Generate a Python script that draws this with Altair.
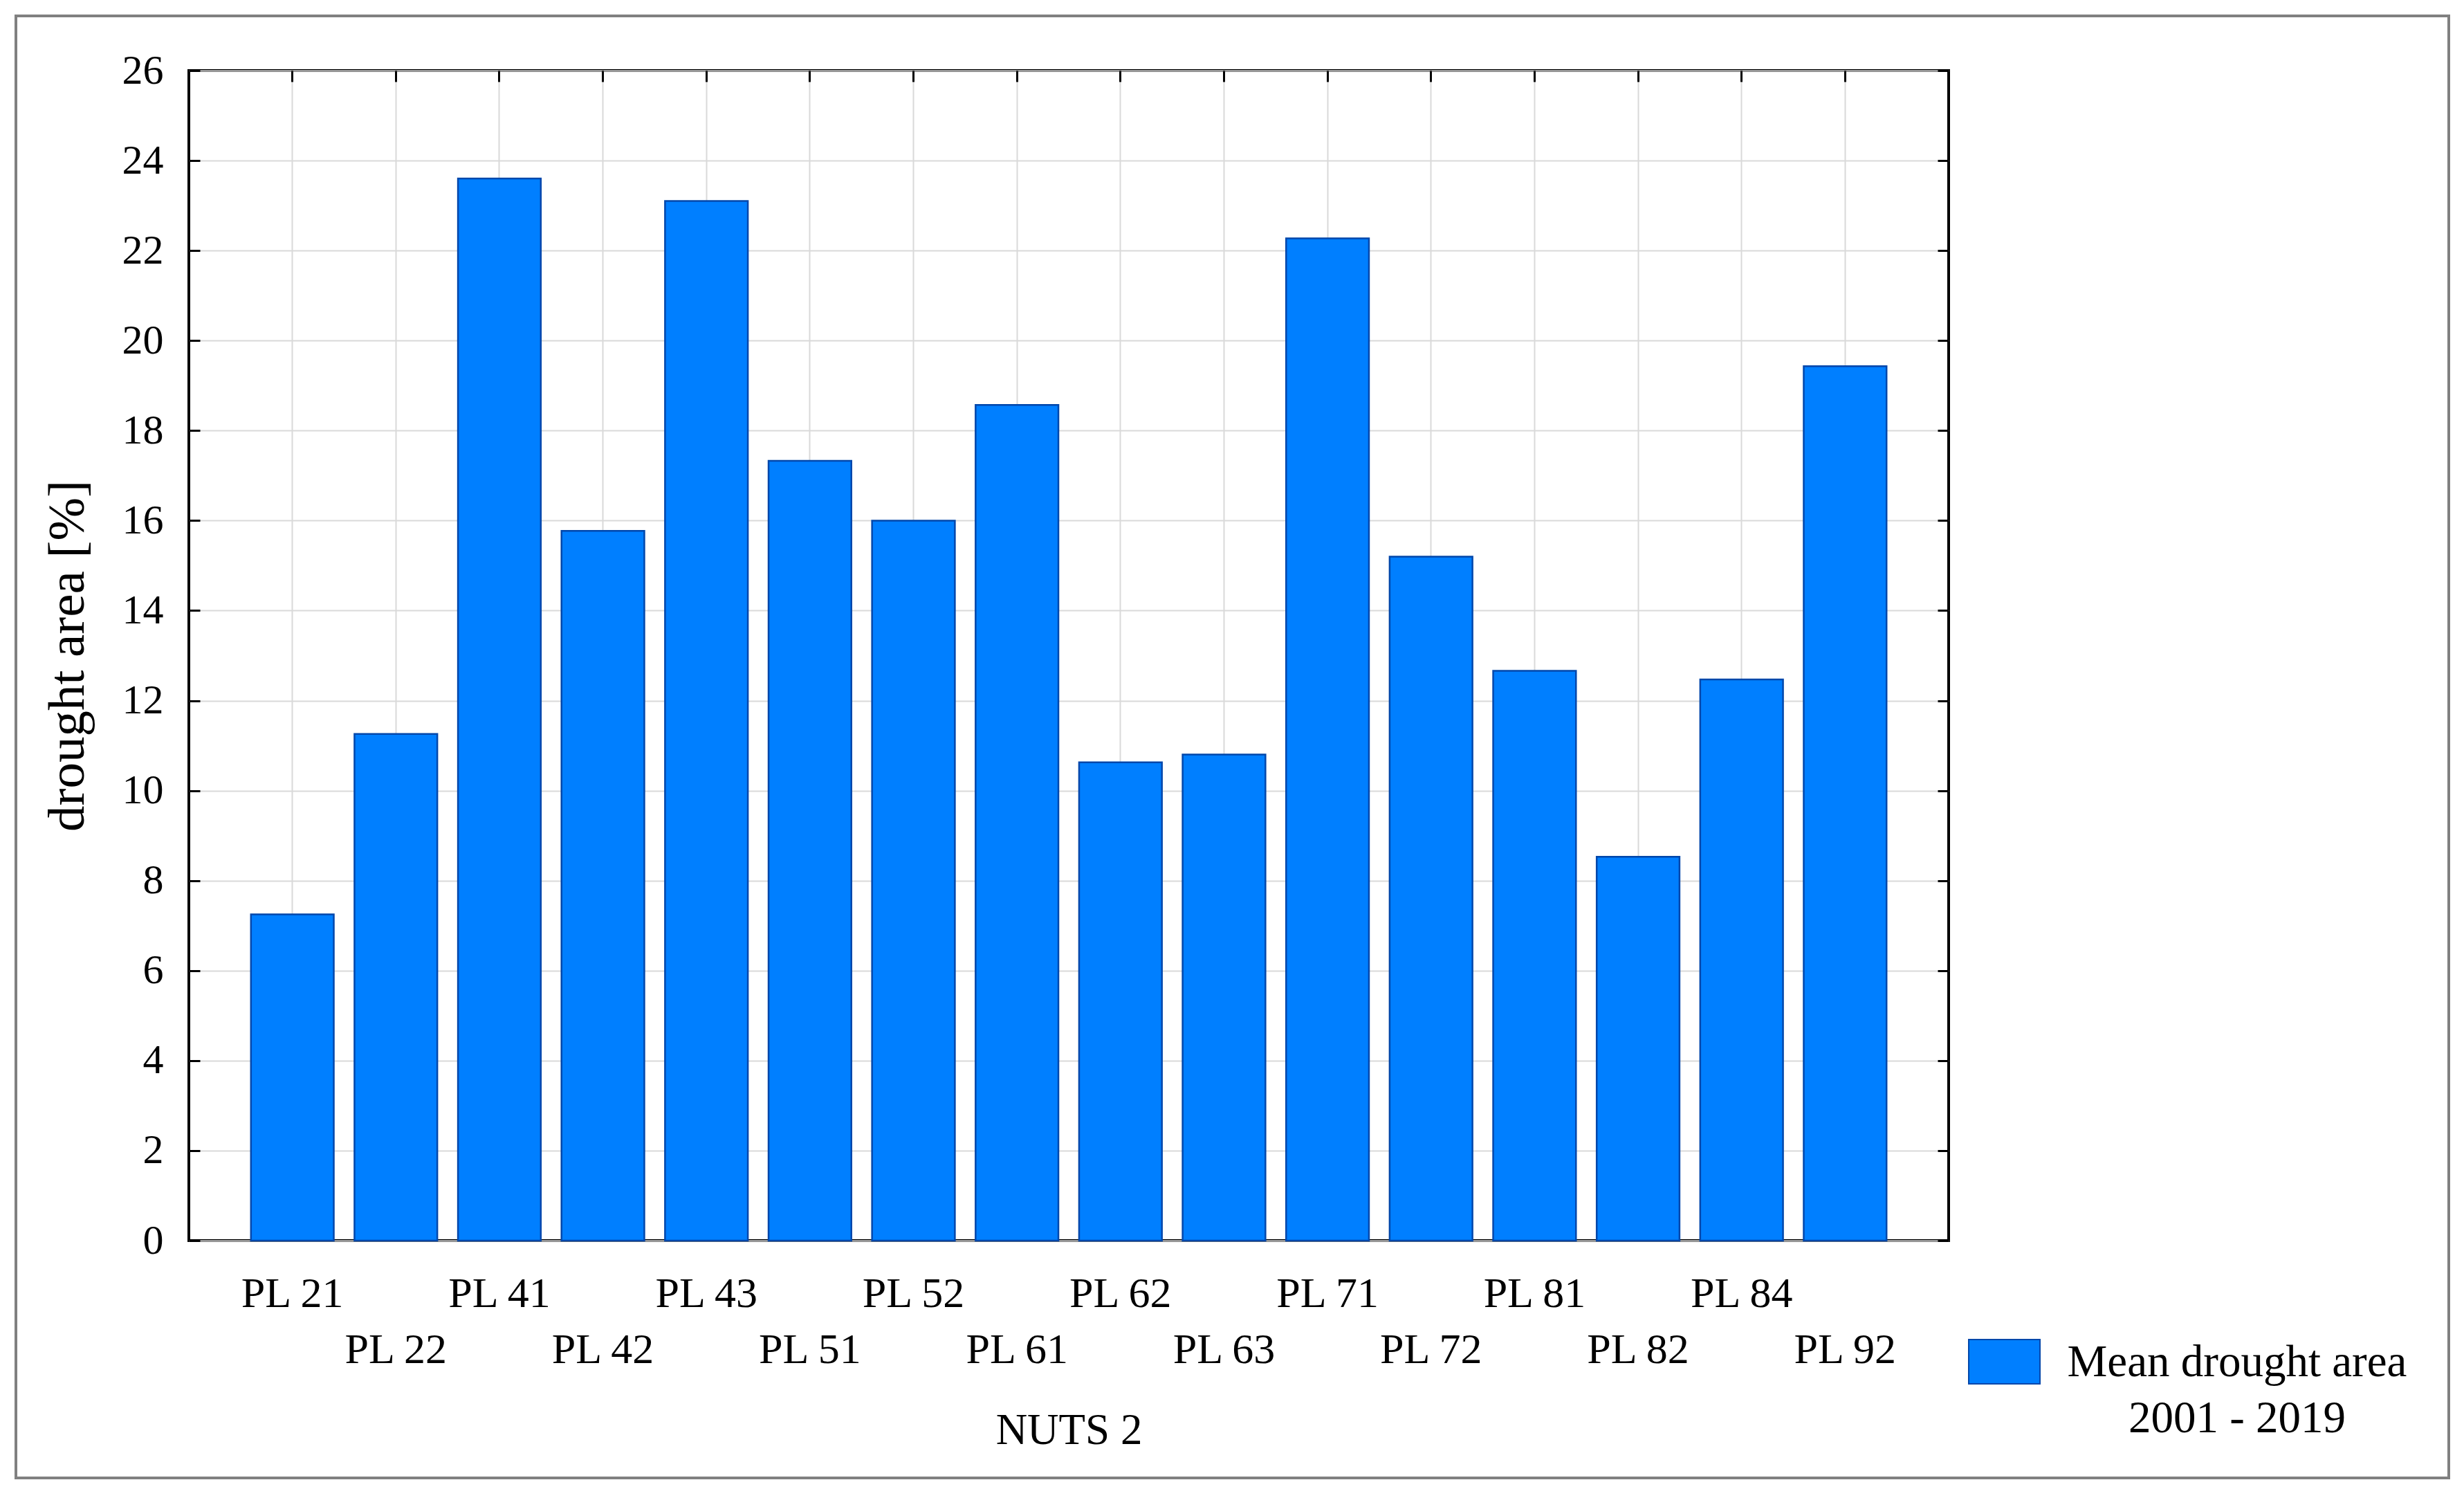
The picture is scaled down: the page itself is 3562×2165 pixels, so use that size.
import json
import altair as alt
import pandas as pd

# ---- data ----
REGIONS = ["PL 21", "PL 22", "PL 41", "PL 42", "PL 43", "PL 51", "PL 52", "PL 61",
           "PL 62", "PL 63", "PL 71", "PL 72", "PL 81", "PL 82", "PL 84", "PL 92"]
MEAN_AREA = [7.25, 11.26, 23.6, 15.77, 23.1, 17.33, 16.0, 18.57,
             10.63, 10.8, 22.27, 15.2, 12.66, 8.53, 12.47, 19.43]
Y_TICKS = list(range(0, 27, 2))
SERIES = "Mean drought area"
SERIES_LINE2 = "2001 - 2019"
X_TITLE = "NUTS 2"
Y_TITLE = "drought area [%]"

df = pd.DataFrame({"region": REGIONS, "value": MEAN_AREA, "series": SERIES})

FONT = "Liberation Serif"
BLUE = "#007FFF"
EDGE = "#0047AB"
NB = "\u00a0"

x_scale = alt.Scale(domain=REGIONS, paddingInner=0.2, paddingOuter=0.6)
y_scale = alt.Scale(domain=[0, 26], nice=False)

label_expr = (f"indexof({json.dumps(REGIONS)}, datum.value) % 2 == 1 "
              f"? ['{NB}', datum.label] : datum.label")

bars = alt.Chart(df).mark_bar(stroke=EDGE, strokeWidth=2.5).encode(
    x=alt.X("region:N", scale=x_scale, sort=REGIONS,
            axis=alt.Axis(orient="bottom", title=X_TITLE, labelAngle=0,
                          labelExpr=label_expr, labelOverlap=False,
                          labelLineHeight=81, labelPadding=46,
                          labelFontSize=62, titleFontSize=63,
                          titlePadding=59, titleFontWeight="normal",
                          domain=False, ticks=True, tickSize=16, offset=-16,
                          tickWidth=3, tickColor="black",
                          grid=True, gridColor="#d9d9d9", gridWidth=2)),
    y=alt.Y("value:Q", scale=y_scale,
            axis=alt.Axis(orient="left", title=Y_TITLE, values=Y_TICKS,
                          labelFontSize=60, labelPadding=37,
                          titleFontSize=75, titlePadding=40,
                          titleFontWeight="normal",
                          domain=False, ticks=True, tickSize=16, offset=-16,
                          tickWidth=3, tickColor="black",
                          grid=True, gridColor="#d9d9d9", gridWidth=2)),
    color=alt.Color("series:N", scale=alt.Scale(range=[BLUE]),
                    legend=alt.Legend(
                        title=None, orient="none", legendX=2572, legendY=1814,
                        labelExpr=f"[datum.label, '{SERIES_LINE2}']",
                        labelFontSize=65, labelOffset=284, labelLimit=2000,
                        labelAlign="center",
                        symbolType="M-1,-0.63H1V0.61H-1Z", symbolSize=10609,
                        symbolStrokeColor=EDGE, symbolStrokeWidth=2,
                        symbolFillColor=BLUE, symbolOpacity=1,
                        padding=0)),
)

mirror = alt.Chart(df).mark_bar(opacity=0).encode(
    x=alt.X("region:N", scale=x_scale, sort=REGIONS,
            axis=alt.Axis(orient="top", title=None, labels=False,
                          domain=False, ticks=True, tickSize=16, offset=-16,
                          tickWidth=3, tickColor="black", grid=False)),
    y=alt.Y("value:Q", scale=y_scale,
            axis=alt.Axis(orient="right", title=None, labels=False,
                          values=Y_TICKS,
                          domain=False, ticks=True, tickSize=16, offset=-16,
                          tickWidth=3, tickColor="black", grid=False)),
)

frame = alt.Chart(alt.Data(values=[{}])).mark_rect(
    fillOpacity=0, stroke="#808080", strokeWidth=4
).encode(
    x=alt.value(-250), x2=alt.value(3267),
    y=alt.value(-79), y2=alt.value(2034),
)

chart = alt.layer(bars, mirror, frame).resolve_axis(
    x="independent", y="independent"
).properties(
    width=2544, height=1691,
    autosize=alt.AutoSizeParams(type="none"),
    padding={"left": 265, "top": 94, "right": 730, "bottom": 358},
    background="white",
).configure(
    style={"guide-label": {"lineHeight": 81}}
).configure_view(
    stroke="black", strokeWidth=4
).configure_axis(
    labelFont=FONT, titleFont=FONT, labelColor="black", titleColor="black"
).configure_legend(
    labelFont=FONT, labelColor="black"
)

chart.save("out.html", embed_options={"renderer": "svg", "actions": False})
